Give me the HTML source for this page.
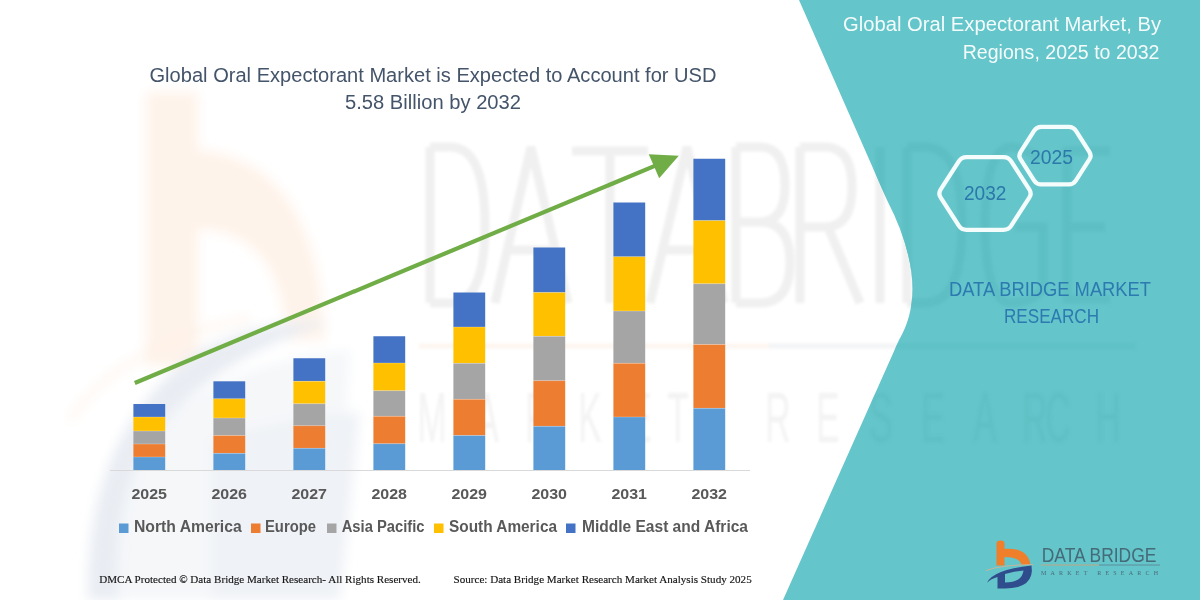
<!DOCTYPE html>
<html><head><meta charset="utf-8">
<style>
html,body{margin:0;padding:0;width:1200px;height:600px;overflow:hidden;background:#fff;}
svg{display:block;}
text{font-family:"Liberation Sans",sans-serif;}
.serif{font-family:"Liberation Serif",serif;}
</style></head><body>
<svg width="1200" height="600" viewBox="0 0 1200 600">
<defs>
<filter id="blur4" x="-20%" y="-20%" width="140%" height="140%"><feGaussianBlur stdDeviation="6"/></filter>
<filter id="blur2" x="-20%" y="-20%" width="140%" height="140%"><feGaussianBlur stdDeviation="1.5"/></filter>
<clipPath id="tealclip"><path d="M799 0 L887 200 Q931 286 899 340 L783 600 L1200 600 L1200 0 Z"/></clipPath>
</defs>
<rect width="1200" height="600" fill="#ffffff"/>
<!-- left b watermark -->
<g filter="url(#blur4)" opacity="1">
<path d="M146 92 L198 92 L198 150 Q318 160 325 340 L286 340 Q282 232 198 229 L198 366 L146 366 Z" fill="#FEF3EA"/>
<path d="M118 600 Q112 470 175 410 Q235 362 350 350 L335 600 Z" fill="#F5F7F9"/>
<path d="M212 600 L212 440 Q280 420 360 412 L340 600 Z" fill="#EFF2F6"/>
<path d="M88 600 Q84 430 200 350 Q262 318 330 322 Q235 352 175 410 Q112 470 118 600 Z" fill="#E9EDF3"/>
<path d="M70 420 Q120 345 250 318" stroke="#FCF0E6" stroke-width="4" fill="none"/>
</g>
<!-- DATA BRIDGE watermark (white part) -->
<g filter="url(#blur2)" fill="none" stroke="#F0F0F0" stroke-width="9">
<path d="M430 147 V303 M430 147 H450 Q485 147 485 225 Q485 303 450 303 H430"/>
<path d="M495 303 L531 147 L568 303 M507 250 H556"/>
<path d="M572 151 H648 M610 151 V303"/>
<path d="M650 303 L687 147 L724 303 M662 250 H712"/>
<path d="M736 147 V303 M736 147 H760 Q785 147 785 185 Q785 222 760 222 H736 M760 222 Q790 222 790 262 Q790 303 760 303 H736"/>
<path d="M800 147 V303 M800 147 H825 Q852 147 852 187 Q852 227 825 227 H800 M828 227 L860 303"/>
<path d="M880 147 V303"/>
<path d="M907 147 V303 M907 147 H925 Q962 147 962 225 Q962 303 925 303 H907"/>
<path d="M1040 160 Q1025 147 1012 147 Q985 147 985 225 Q985 303 1012 303 Q1030 303 1043 290 V227 H1015"/>
<path d="M1110 151 H1067 V299 H1110 M1067 227 H1105"/>

</g>
<g filter="url(#blur2)">
<rect x="419" y="343.5" width="350" height="5" fill="#FDF5EF"/>
<rect x="769" y="343.5" width="366" height="5" fill="#F2F4F6"/>
<g font-size="70" fill="#F3F3F3"><text x="432" y="442" text-anchor="middle" transform="translate(432 0) scale(0.5 1) translate(-432 0)">M</text>
<text x="487" y="442" text-anchor="middle" transform="translate(487 0) scale(0.5 1) translate(-487 0)">A</text>
<text x="538" y="442" text-anchor="middle" transform="translate(538 0) scale(0.5 1) translate(-538 0)">R</text>
<text x="590" y="442" text-anchor="middle" transform="translate(590 0) scale(0.5 1) translate(-590 0)">K</text>
<text x="640" y="442" text-anchor="middle" transform="translate(640 0) scale(0.5 1) translate(-640 0)">E</text>
<text x="678" y="442" text-anchor="middle" transform="translate(678 0) scale(0.5 1) translate(-678 0)">T</text>
<text x="778" y="442" text-anchor="middle" transform="translate(778 0) scale(0.5 1) translate(-778 0)">R</text>
<text x="828" y="442" text-anchor="middle" transform="translate(828 0) scale(0.5 1) translate(-828 0)">E</text>
<text x="881" y="442" text-anchor="middle" transform="translate(881 0) scale(0.5 1) translate(-881 0)">S</text>
<text x="933" y="442" text-anchor="middle" transform="translate(933 0) scale(0.5 1) translate(-933 0)">E</text>
<text x="985" y="442" text-anchor="middle" transform="translate(985 0) scale(0.5 1) translate(-985 0)">A</text>
<text x="1035" y="442" text-anchor="middle" transform="translate(1035 0) scale(0.5 1) translate(-1035 0)">R</text>
<text x="1058" y="442" text-anchor="middle" transform="translate(1058 0) scale(0.5 1) translate(-1058 0)">C</text>
<text x="1108" y="442" text-anchor="middle" transform="translate(1108 0) scale(0.5 1) translate(-1108 0)">H</text></g>
</g>
<!-- teal shape -->
<path d="M799 0 L887 200 Q931 286 899 340 L783 600 L1200 600 L1200 0 Z" fill="#64C5CA"/>
<g clip-path="url(#tealclip)" filter="url(#blur2)" fill="none" stroke="#5DBFC4" stroke-width="9">
<path d="M430 147 V303 M430 147 H450 Q485 147 485 225 Q485 303 450 303 H430"/>
<path d="M495 303 L531 147 L568 303 M507 250 H556"/>
<path d="M572 151 H648 M610 151 V303"/>
<path d="M650 303 L687 147 L724 303 M662 250 H712"/>
<path d="M736 147 V303 M736 147 H760 Q785 147 785 185 Q785 222 760 222 H736 M760 222 Q790 222 790 262 Q790 303 760 303 H736"/>
<path d="M800 147 V303 M800 147 H825 Q852 147 852 187 Q852 227 825 227 H800 M828 227 L860 303"/>
<path d="M880 147 V303"/>
<path d="M907 147 V303 M907 147 H925 Q962 147 962 225 Q962 303 925 303 H907"/>
<path d="M1040 160 Q1025 147 1012 147 Q985 147 985 225 Q985 303 1012 303 Q1030 303 1043 290 V227 H1015"/>
<path d="M1110 151 H1067 V299 H1110 M1067 227 H1105"/>

</g>
<g clip-path="url(#tealclip)" filter="url(#blur2)">
<rect x="769" y="343.5" width="366" height="5" fill="#5FC1C6"/>
<g font-size="70" fill="#5FC0C5"><text x="432" y="442" text-anchor="middle" transform="translate(432 0) scale(0.5 1) translate(-432 0)">M</text>
<text x="487" y="442" text-anchor="middle" transform="translate(487 0) scale(0.5 1) translate(-487 0)">A</text>
<text x="538" y="442" text-anchor="middle" transform="translate(538 0) scale(0.5 1) translate(-538 0)">R</text>
<text x="590" y="442" text-anchor="middle" transform="translate(590 0) scale(0.5 1) translate(-590 0)">K</text>
<text x="640" y="442" text-anchor="middle" transform="translate(640 0) scale(0.5 1) translate(-640 0)">E</text>
<text x="678" y="442" text-anchor="middle" transform="translate(678 0) scale(0.5 1) translate(-678 0)">T</text>
<text x="778" y="442" text-anchor="middle" transform="translate(778 0) scale(0.5 1) translate(-778 0)">R</text>
<text x="828" y="442" text-anchor="middle" transform="translate(828 0) scale(0.5 1) translate(-828 0)">E</text>
<text x="881" y="442" text-anchor="middle" transform="translate(881 0) scale(0.5 1) translate(-881 0)">S</text>
<text x="933" y="442" text-anchor="middle" transform="translate(933 0) scale(0.5 1) translate(-933 0)">E</text>
<text x="985" y="442" text-anchor="middle" transform="translate(985 0) scale(0.5 1) translate(-985 0)">A</text>
<text x="1035" y="442" text-anchor="middle" transform="translate(1035 0) scale(0.5 1) translate(-1035 0)">R</text>
<text x="1058" y="442" text-anchor="middle" transform="translate(1058 0) scale(0.5 1) translate(-1058 0)">C</text>
<text x="1108" y="442" text-anchor="middle" transform="translate(1108 0) scale(0.5 1) translate(-1108 0)">H</text></g>
</g>
<!-- titles -->
<text x="149.5" y="82" font-size="20" fill="#44546A" textLength="567" lengthAdjust="spacingAndGlyphs">Global Oral Expectorant Market is Expected to Account for USD</text>
<text x="345" y="109.3" font-size="20" fill="#44546A" textLength="176" lengthAdjust="spacingAndGlyphs">5.58 Billion by 2032</text>
<text x="843" y="31.2" font-size="20" fill="#F4FBFB" textLength="318" lengthAdjust="spacingAndGlyphs">Global Oral Expectorant Market, By</text>
<text x="962.7" y="59" font-size="20" fill="#F4FBFB" textLength="196.7" lengthAdjust="spacingAndGlyphs">Regions, 2025 to 2032</text>
<!-- axis -->
<line x1="110" y1="470.5" x2="750" y2="470.5" stroke="#D9D9D9" stroke-width="1"/>
<rect x="133.4" y="404.00" width="31.8" height="13.00" fill="#4472C4"/>
<rect x="133.4" y="417.00" width="31.8" height="14.00" fill="#FFC000"/>
<rect x="133.4" y="431.00" width="31.8" height="13.00" fill="#A5A5A5"/>
<rect x="133.4" y="444.00" width="31.8" height="13.00" fill="#ED7D31"/>
<rect x="133.4" y="457.00" width="31.8" height="13.00" fill="#5B9BD5"/>
<rect x="133.4" y="416.65" width="31.8" height="0.7" fill="#ffffff" opacity="0.35"/>
<rect x="133.4" y="430.65" width="31.8" height="0.7" fill="#ffffff" opacity="0.35"/>
<rect x="133.4" y="443.65" width="31.8" height="0.7" fill="#ffffff" opacity="0.35"/>
<rect x="133.4" y="456.65" width="31.8" height="0.7" fill="#ffffff" opacity="0.35"/>
<rect x="213.4" y="381.30" width="31.8" height="17.50" fill="#4472C4"/>
<rect x="213.4" y="398.80" width="31.8" height="19.20" fill="#FFC000"/>
<rect x="213.4" y="418.00" width="31.8" height="17.50" fill="#A5A5A5"/>
<rect x="213.4" y="435.50" width="31.8" height="17.80" fill="#ED7D31"/>
<rect x="213.4" y="453.30" width="31.8" height="16.70" fill="#5B9BD5"/>
<rect x="213.4" y="398.45" width="31.8" height="0.7" fill="#ffffff" opacity="0.35"/>
<rect x="213.4" y="417.65" width="31.8" height="0.7" fill="#ffffff" opacity="0.35"/>
<rect x="213.4" y="435.15" width="31.8" height="0.7" fill="#ffffff" opacity="0.35"/>
<rect x="213.4" y="452.95" width="31.8" height="0.7" fill="#ffffff" opacity="0.35"/>
<rect x="293.4" y="358.25" width="31.8" height="23.00" fill="#4472C4"/>
<rect x="293.4" y="381.25" width="31.8" height="22.50" fill="#FFC000"/>
<rect x="293.4" y="403.75" width="31.8" height="22.00" fill="#A5A5A5"/>
<rect x="293.4" y="425.75" width="31.8" height="22.50" fill="#ED7D31"/>
<rect x="293.4" y="448.25" width="31.8" height="21.75" fill="#5B9BD5"/>
<rect x="293.4" y="380.90" width="31.8" height="0.7" fill="#ffffff" opacity="0.35"/>
<rect x="293.4" y="403.40" width="31.8" height="0.7" fill="#ffffff" opacity="0.35"/>
<rect x="293.4" y="425.40" width="31.8" height="0.7" fill="#ffffff" opacity="0.35"/>
<rect x="293.4" y="447.90" width="31.8" height="0.7" fill="#ffffff" opacity="0.35"/>
<rect x="373.4" y="336.25" width="31.8" height="26.75" fill="#4472C4"/>
<rect x="373.4" y="363.00" width="31.8" height="27.75" fill="#FFC000"/>
<rect x="373.4" y="390.75" width="31.8" height="25.50" fill="#A5A5A5"/>
<rect x="373.4" y="416.25" width="31.8" height="27.50" fill="#ED7D31"/>
<rect x="373.4" y="443.75" width="31.8" height="26.25" fill="#5B9BD5"/>
<rect x="373.4" y="362.65" width="31.8" height="0.7" fill="#ffffff" opacity="0.35"/>
<rect x="373.4" y="390.40" width="31.8" height="0.7" fill="#ffffff" opacity="0.35"/>
<rect x="373.4" y="415.90" width="31.8" height="0.7" fill="#ffffff" opacity="0.35"/>
<rect x="373.4" y="443.40" width="31.8" height="0.7" fill="#ffffff" opacity="0.35"/>
<rect x="453.4" y="292.50" width="31.8" height="34.50" fill="#4472C4"/>
<rect x="453.4" y="327.00" width="31.8" height="36.25" fill="#FFC000"/>
<rect x="453.4" y="363.25" width="31.8" height="36.00" fill="#A5A5A5"/>
<rect x="453.4" y="399.25" width="31.8" height="36.25" fill="#ED7D31"/>
<rect x="453.4" y="435.50" width="31.8" height="34.50" fill="#5B9BD5"/>
<rect x="453.4" y="326.65" width="31.8" height="0.7" fill="#ffffff" opacity="0.35"/>
<rect x="453.4" y="362.90" width="31.8" height="0.7" fill="#ffffff" opacity="0.35"/>
<rect x="453.4" y="398.90" width="31.8" height="0.7" fill="#ffffff" opacity="0.35"/>
<rect x="453.4" y="435.15" width="31.8" height="0.7" fill="#ffffff" opacity="0.35"/>
<rect x="533.4" y="247.50" width="31.8" height="45.00" fill="#4472C4"/>
<rect x="533.4" y="292.50" width="31.8" height="43.75" fill="#FFC000"/>
<rect x="533.4" y="336.25" width="31.8" height="44.50" fill="#A5A5A5"/>
<rect x="533.4" y="380.75" width="31.8" height="45.50" fill="#ED7D31"/>
<rect x="533.4" y="426.25" width="31.8" height="43.75" fill="#5B9BD5"/>
<rect x="533.4" y="292.15" width="31.8" height="0.7" fill="#ffffff" opacity="0.35"/>
<rect x="533.4" y="335.90" width="31.8" height="0.7" fill="#ffffff" opacity="0.35"/>
<rect x="533.4" y="380.40" width="31.8" height="0.7" fill="#ffffff" opacity="0.35"/>
<rect x="533.4" y="425.90" width="31.8" height="0.7" fill="#ffffff" opacity="0.35"/>
<rect x="613.4" y="202.50" width="31.8" height="54.25" fill="#4472C4"/>
<rect x="613.4" y="256.75" width="31.8" height="54.25" fill="#FFC000"/>
<rect x="613.4" y="311.00" width="31.8" height="52.25" fill="#A5A5A5"/>
<rect x="613.4" y="363.25" width="31.8" height="53.75" fill="#ED7D31"/>
<rect x="613.4" y="417.00" width="31.8" height="53.00" fill="#5B9BD5"/>
<rect x="613.4" y="256.40" width="31.8" height="0.7" fill="#ffffff" opacity="0.35"/>
<rect x="613.4" y="310.65" width="31.8" height="0.7" fill="#ffffff" opacity="0.35"/>
<rect x="613.4" y="362.90" width="31.8" height="0.7" fill="#ffffff" opacity="0.35"/>
<rect x="613.4" y="416.65" width="31.8" height="0.7" fill="#ffffff" opacity="0.35"/>
<rect x="693.4" y="158.75" width="31.8" height="61.85" fill="#4472C4"/>
<rect x="693.4" y="220.60" width="31.8" height="63.15" fill="#FFC000"/>
<rect x="693.4" y="283.75" width="31.8" height="60.75" fill="#A5A5A5"/>
<rect x="693.4" y="344.50" width="31.8" height="63.75" fill="#ED7D31"/>
<rect x="693.4" y="408.25" width="31.8" height="61.75" fill="#5B9BD5"/>
<rect x="693.4" y="220.25" width="31.8" height="0.7" fill="#ffffff" opacity="0.35"/>
<rect x="693.4" y="283.40" width="31.8" height="0.7" fill="#ffffff" opacity="0.35"/>
<rect x="693.4" y="344.15" width="31.8" height="0.7" fill="#ffffff" opacity="0.35"/>
<rect x="693.4" y="407.90" width="31.8" height="0.7" fill="#ffffff" opacity="0.35"/>
<!-- arrow -->
<line x1="134.8" y1="383" x2="656" y2="165.4" stroke="#70AD47" stroke-width="4.2"/>
<polygon points="678.75,155.8 648.75,154.2 659.2,178.3" fill="#70AD47"/>
<g font-size="15" font-weight="bold" fill="#595959">
<text x="131.4" y="498.7" textLength="35.6" lengthAdjust="spacingAndGlyphs">2025</text>
<text x="211.4" y="498.7" textLength="35.6" lengthAdjust="spacingAndGlyphs">2026</text>
<text x="291.4" y="498.7" textLength="35.6" lengthAdjust="spacingAndGlyphs">2027</text>
<text x="371.4" y="498.7" textLength="35.6" lengthAdjust="spacingAndGlyphs">2028</text>
<text x="451.4" y="498.7" textLength="35.6" lengthAdjust="spacingAndGlyphs">2029</text>
<text x="531.4" y="498.7" textLength="35.6" lengthAdjust="spacingAndGlyphs">2030</text>
<text x="611.4" y="498.7" textLength="35.6" lengthAdjust="spacingAndGlyphs">2031</text>
<text x="691.4" y="498.7" textLength="35.6" lengthAdjust="spacingAndGlyphs">2032</text>
</g>
<g font-size="16" font-weight="bold" fill="#595959">
<rect x="119" y="523.5" width="9.5" height="9.5" fill="#5B9BD5"/>
<text x="134" y="532.3" textLength="107.7" lengthAdjust="spacingAndGlyphs">North America</text>
<rect x="251" y="523.5" width="9.5" height="9.5" fill="#ED7D31"/>
<text x="265" y="532.3" textLength="51" lengthAdjust="spacingAndGlyphs">Europe</text>
<rect x="327" y="523.5" width="9.5" height="9.5" fill="#A5A5A5"/>
<text x="341.7" y="532.3" textLength="82.8" lengthAdjust="spacingAndGlyphs">Asia Pacific</text>
<rect x="434" y="523.5" width="9.5" height="9.5" fill="#FFC000"/>
<text x="449" y="532.3" textLength="108" lengthAdjust="spacingAndGlyphs">South America</text>
<rect x="566" y="523.5" width="9.5" height="9.5" fill="#4472C4"/>
<text x="582" y="532.3" textLength="166" lengthAdjust="spacingAndGlyphs">Middle East and Africa</text>
</g>
<g fill="none" stroke="#F4FCFC" stroke-width="4.3">
<path d="M1020.62 159.39 Q1018.20 155.60 1020.62 151.81 L1034.18 130.59 Q1036.60 126.80 1041.10 126.80 L1068.90 126.80 Q1073.40 126.80 1075.82 130.59 L1089.38 151.81 Q1091.80 155.60 1089.38 159.39 L1075.82 180.61 Q1073.40 184.40 1068.90 184.40 L1041.10 184.40 Q1036.60 184.40 1034.18 180.61 Z"/>
<path d="M940.72 197.70 Q938.00 193.50 940.72 189.30 L958.78 161.40 Q961.50 157.20 966.50 157.20 L1003.50 157.20 Q1008.50 157.20 1011.22 161.40 L1029.28 189.30 Q1032.00 193.50 1029.28 197.70 L1011.22 225.60 Q1008.50 229.80 1003.50 229.80 L966.50 229.80 Q961.50 229.80 958.78 225.60 Z"/>
</g>
<text x="1030" y="164" font-size="20" fill="#2B78AA" textLength="43" lengthAdjust="spacingAndGlyphs">2025</text>
<text x="964" y="200" font-size="20" fill="#2B78AA" textLength="42.4" lengthAdjust="spacingAndGlyphs">2032</text>
<text x="949" y="296" font-size="20.5" fill="#2C7AB0" textLength="202" lengthAdjust="spacingAndGlyphs">DATA BRIDGE MARKET</text>
<text x="1004" y="323" font-size="20.5" fill="#2C7AB0" textLength="95" lengthAdjust="spacingAndGlyphs">RESEARCH</text>
<text class="serif" x="99.2" y="583.4" font-size="11" fill="#151515" stroke="#151515" stroke-width="0.15" textLength="321.6" lengthAdjust="spacingAndGlyphs">DMCA Protected © Data Bridge Market Research-  All Rights Reserved.</text>
<text class="serif" x="453.5" y="583" font-size="11" fill="#151515" stroke="#151515" stroke-width="0.15" textLength="298.2" lengthAdjust="spacingAndGlyphs">Source: Data Bridge Market Research  Market Analysis Study 2025</text>
<g>
<path d="M996.5 565.5 V543.5 Q996.5 540.5 1000.5 540.5 Q1004.5 540.5 1004.5 543.5 V548.8 Q1028 547 1030.5 565 H1021.5 Q1020 557 1004.5 557 V565.5 Z" fill="#F07F2C"/>
<path d="M986 570.5 Q1000 565 1033 564.5" stroke="#C9B49A" stroke-width="1" fill="none"/>
<path d="M987 583 Q992 570 1031.5 565.5 Q1035 588 1005 588.5 L997.5 588.5 L997.5 577 Q990 579 987 583 Z M1005 574 Q1014 571 1023.5 570.5 Q1022 582.5 1005 582.5 Z" fill="#2F4C8C" fill-rule="evenodd"/>
<text x="1041.7" y="561.6" font-size="19.5" fill="#456B78" textLength="114.7" lengthAdjust="spacingAndGlyphs">DATA BRIDGE</text>
<line x1="1041" y1="565" x2="1099" y2="565" stroke="#D9A070" stroke-width="0.8"/>
<line x1="1099" y1="565" x2="1160" y2="565" stroke="#5A8090" stroke-width="0.8"/>
<text class="serif" x="1041" y="575" font-size="6" fill="#4A6B7A" textLength="117" lengthAdjust="spacing">MARKET  RESEARCH</text>
</g>
</svg>
</body></html>
